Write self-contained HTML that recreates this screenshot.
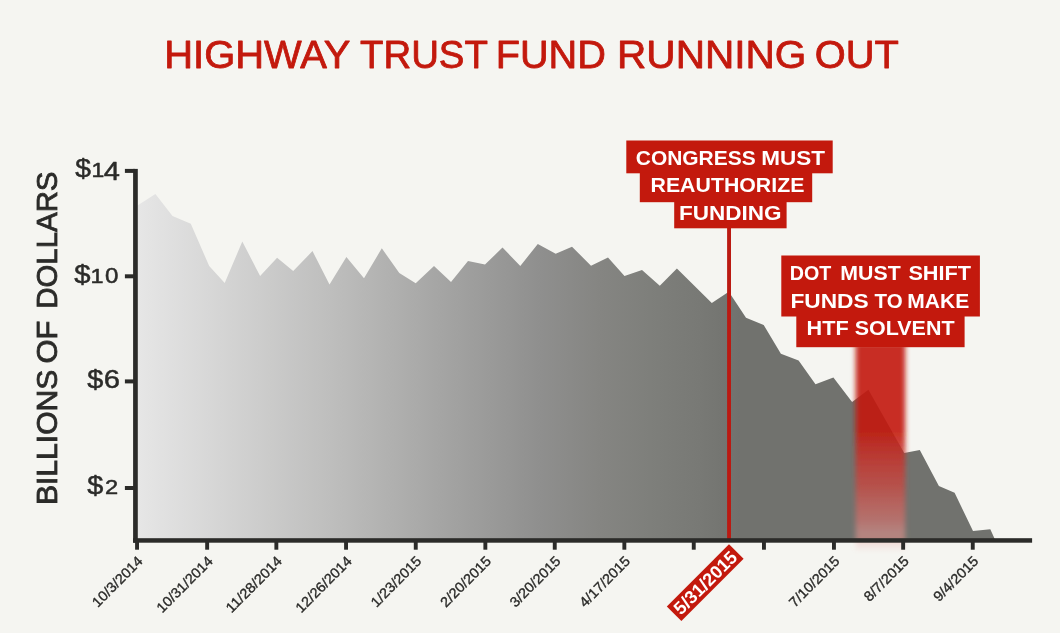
<!DOCTYPE html>
<html lang="en">
<head>
<meta charset="utf-8">
<title>Highway Trust Fund Running Out</title>
<style>
html,body{margin:0;padding:0;background:#f5f5f1;}
body{width:1060px;height:633px;overflow:hidden;font-family:"Liberation Sans",sans-serif;}
svg{display:block;}
text{font-family:"Liberation Sans",sans-serif;}
.xl{font-size:14px;fill:#2b2b29;text-anchor:end;stroke:#2b2b29;stroke-width:.35;}
.lab{font-size:20px;font-weight:bold;fill:#fff;}
</style>
</head>
<body>
<svg width="1060" height="633" viewBox="0 0 1060 633">
<defs>
<linearGradient id="ga" gradientUnits="userSpaceOnUse" x1="138" y1="0" x2="740" y2="0">
<stop offset="0" stop-color="#e6e6e6"/>
<stop offset="0.3355" stop-color="#bcbcbb"/>
<stop offset="0.5017" stop-color="#a5a5a4"/>
<stop offset="0.6678" stop-color="#8f8f8e"/>
<stop offset="0.7674" stop-color="#858582"/>
<stop offset="0.8505" stop-color="#7e7f7b"/>
<stop offset="0.9336" stop-color="#787975"/>
<stop offset="1" stop-color="#71726e"/>
</linearGradient>
<linearGradient id="gb" x1="0" y1="0" x2="0" y2="1">
<stop offset="0" stop-color="#c3190d" stop-opacity=".9"/>
<stop offset="0.406" stop-color="#c3190d" stop-opacity=".9"/>
<stop offset="0.502" stop-color="#c62a22" stop-opacity=".85"/>
<stop offset="0.68" stop-color="#d0463f" stop-opacity=".72"/>
<stop offset="0.836" stop-color="#de706b" stop-opacity=".62"/>
<stop offset="0.9" stop-color="#e6908c" stop-opacity=".57"/>
<stop offset="0.93" stop-color="#e6908c" stop-opacity=".57"/>
<stop offset="0.952" stop-color="#e6908c" stop-opacity=".22"/>
<stop offset="1" stop-color="#e6908c" stop-opacity="0"/>
</linearGradient>
<filter id="bl" x="-30%" y="-5%" width="160%" height="110%"><feGaussianBlur stdDeviation="2.7 0.8"/></filter>
</defs>
<rect width="1060" height="633" fill="#f5f5f1"/>

<!-- title -->
<g id="title" font-size="39" fill="#c3190d" stroke="#c3190d" stroke-width=".8" stroke-linejoin="round">
<text x="164.23" y="68.4" textLength="186.28" lengthAdjust="spacingAndGlyphs">HIGHWAY</text>
<text x="360" y="68.4" textLength="127.91" lengthAdjust="spacingAndGlyphs">TRUST</text>
<text x="495.65" y="68.4" textLength="110.24" lengthAdjust="spacingAndGlyphs">FUND</text>
<text x="617.08" y="68.4" textLength="189.25" lengthAdjust="spacingAndGlyphs">RUNNING</text>
<text x="814.78" y="68.4" textLength="84.06" lengthAdjust="spacingAndGlyphs">OUT</text>
</g>

<!-- area -->
<polygon id="area" fill="url(#ga)" points="137.5,540 137.5,205.6 155.4,194 172.5,216 190.8,223.7 209.2,266.1 224.7,283.1 242.3,241.5 260.1,276 277.1,257.7 293.2,271 312.5,251.1 329.5,284.5 346.4,257.1 364,278.3 381.8,248.3 399.3,273 415.7,283.3 434,266 451,282.1 468,260.9 485,264.5 502.5,247.6 520.3,266 537.8,243.9 555.7,253.8 572,246.7 591,265.7 608,257.5 624.5,275.9 642,269.9 659.8,285.8 676.9,268.5 711.8,303.1 728.8,291.7 746,317.8 763.7,325.1 780.9,353.7 798.6,360.5 815.5,384.3 833.4,377.6 852.1,402 868.4,389.7 904.2,452.9 919.8,450.1 938.9,485.9 954.6,492.8 973,531 990.3,529.3 995.2,540"/>

<!-- red band -->
<rect id="band" x="855.6" y="346" width="49.6" height="207" fill="url(#gb)" filter="url(#bl)"/>

<!-- red marker line -->
<rect x="727.1" y="226" width="3.9" height="314" fill="#bb1a12"/>

<!-- axes -->
<g fill="#2b2b29">
<rect x="133.1" y="168.9" width="4.7" height="373.8"/>
<rect x="133.1" y="538.2" width="899" height="4.5"/>
<rect x="124.9" y="168.9" width="10" height="4"/>
<rect x="124.9" y="274.3" width="10" height="4"/>
<rect x="124.9" y="379.4" width="10" height="4"/>
<rect x="124.9" y="486" width="10" height="4"/>
<g id="xt">
<rect x="135.1" y="540" width="3.9" height="9.7"/>
<rect x="205.2" y="540" width="3.9" height="9.7"/>
<rect x="274.4" y="540" width="3.9" height="9.7"/>
<rect x="344.1" y="540" width="3.9" height="9.7"/>
<rect x="413.8" y="540" width="3.9" height="9.7"/>
<rect x="483.4" y="540" width="3.9" height="9.7"/>
<rect x="552.8" y="540" width="3.9" height="9.7"/>
<rect x="622.4" y="540" width="3.9" height="9.7"/>
<rect x="691.8" y="540" width="3.9" height="9.7"/>
<rect x="762.0" y="540" width="3.9" height="9.7"/>
<rect x="832.0" y="540" width="3.9" height="9.7"/>
<rect x="901.2" y="540" width="3.9" height="9.7"/>
<rect x="970.8" y="540" width="3.9" height="9.7"/>
</g>
</g>

<!-- y labels -->
<g id="ylab" font-size="20" fill="#2b2b29" stroke="#2b2b29" stroke-width=".5" stroke-linejoin="round" transform="scale(1.12,1)">
<text><tspan x="67.14" y="177.24" font-size="25.19">$</tspan><tspan x="81.71" y="177.50" font-size="20.58">1</tspan><tspan x="92.69" y="180.30" font-size="25.94">4</tspan></text>
<text><tspan x="66.33" y="282.97" font-size="26.17">$</tspan><tspan x="80.78" y="283.30" font-size="21.01">1</tspan><tspan x="93.84" y="283.38" font-size="21.55">0</tspan></text>
<text><tspan x="77.86" y="387.69" font-size="25.80">$</tspan><tspan x="92.66" y="388.04" font-size="26.06">6</tspan></text>
<text><tspan x="77.86" y="493.69" font-size="25.80">$</tspan><tspan x="93.86" y="494.30" font-size="21.14">2</tspan></text>
</g>
<g id="ytitle" transform="translate(57.3,503.1) rotate(-90)" font-size="29.5" fill="#2b2b29" stroke="#2b2b29" stroke-width=".8">
<text x="-1.97" y="0" textLength="135.4" lengthAdjust="spacingAndGlyphs">BILLIONS</text>
<text x="139.58" y="0" textLength="43.06" lengthAdjust="spacingAndGlyphs">OF</text>
<text x="194.37" y="0" textLength="137.22" lengthAdjust="spacingAndGlyphs">DOLLARS</text>
</g>

<!-- x labels -->
<g class="xl">
<text transform="translate(143.6,562) rotate(-45)" textLength="64.9" lengthAdjust="spacingAndGlyphs">10/3/2014</text>
<text transform="translate(213.7,562) rotate(-45)" textLength="72.7" lengthAdjust="spacingAndGlyphs">10/31/2014</text>
<text transform="translate(282.9,562) rotate(-45)" textLength="72.7" lengthAdjust="spacingAndGlyphs">11/28/2014</text>
<text transform="translate(352.6,562) rotate(-45)" textLength="72.7" lengthAdjust="spacingAndGlyphs">12/26/2014</text>
<text transform="translate(422.3,562) rotate(-45)" textLength="64.9" lengthAdjust="spacingAndGlyphs">1/23/2015</text>
<text transform="translate(491.9,562) rotate(-45)" textLength="64.9" lengthAdjust="spacingAndGlyphs">2/20/2015</text>
<text transform="translate(561.4,562) rotate(-45)" textLength="64.9" lengthAdjust="spacingAndGlyphs">3/20/2015</text>
<text transform="translate(631.0,562) rotate(-45)" textLength="64.9" lengthAdjust="spacingAndGlyphs">4/17/2015</text>
<text transform="translate(840.6,562) rotate(-45)" textLength="64.9" lengthAdjust="spacingAndGlyphs">7/10/2015</text>
<text transform="translate(909.8,562) rotate(-45)" textLength="57.1" lengthAdjust="spacingAndGlyphs">8/7/2015</text>
<text transform="translate(979.3,562) rotate(-45)" textLength="57.1" lengthAdjust="spacingAndGlyphs">9/4/2015</text>
</g>

<!-- highlighted date -->
<g id="hl" transform="translate(705.2,582.6) rotate(-45)">
<rect x="-44" y="-10.3" width="88" height="20.6" fill="#c3190d"/>
<text x="0" y="6.4" font-size="18" font-weight="bold" fill="#fff" text-anchor="middle" textLength="81" lengthAdjust="spacingAndGlyphs">5/31/2015</text>
</g>

<!-- label 1 -->
<g id="lab1">
<rect x="626.3" y="140.5" width="206.4" height="32.8" fill="#c3190d"/>
<rect x="639.8" y="172.8" width="172.4" height="29.4" fill="#c3190d"/>
<rect x="674.2" y="201.8" width="112.4" height="26.5" fill="#c3190d"/>
<g class="lab">
<text x="635.8" y="165.3" textLength="119.86" lengthAdjust="spacingAndGlyphs">CONGRESS</text>
<text x="761.27" y="165.3" textLength="63.77" lengthAdjust="spacingAndGlyphs">MUST</text>
<text x="650.54" y="192.3" textLength="153.83" lengthAdjust="spacingAndGlyphs">REAUTHORIZE</text>
<text x="678.97" y="219.7" textLength="102.55" lengthAdjust="spacingAndGlyphs">FUNDING</text>
</g>
</g>

<!-- label 2 -->
<g id="lab2">
<rect x="781.3" y="255.5" width="198.6" height="61" fill="#c3190d"/>
<rect x="796.3" y="316" width="168.3" height="31.2" fill="#c3190d"/>
<g class="lab">
<text x="789.82" y="280.2" textLength="41.5" lengthAdjust="spacingAndGlyphs">DOT</text>
<text x="840.33" y="280.2" textLength="60.4" lengthAdjust="spacingAndGlyphs">MUST</text>
<text x="908.4" y="280.2" textLength="62.74" lengthAdjust="spacingAndGlyphs">SHIFT</text>
<text x="790.46" y="307.6" textLength="78.22" lengthAdjust="spacingAndGlyphs">FUNDS</text>
<text x="874.6" y="307.6" textLength="28.07" lengthAdjust="spacingAndGlyphs">TO</text>
<text x="907.35" y="307.6" textLength="61.81" lengthAdjust="spacingAndGlyphs">MAKE</text>
<text x="806.62" y="334.5" textLength="42.12" lengthAdjust="spacingAndGlyphs">HTF</text>
<text x="854.8" y="334.5" textLength="99.73" lengthAdjust="spacingAndGlyphs">SOLVENT</text>
</g>
</g>
</svg>
</body>
</html>
